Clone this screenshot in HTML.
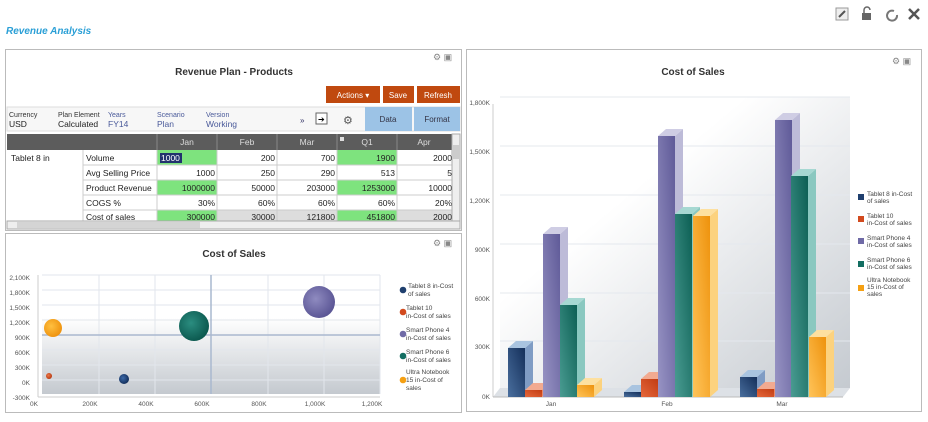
<!DOCTYPE html>
<html><head><meta charset="utf-8"><style>
body{margin:0;background:#fff;width:928px;height:417px;overflow:hidden;font-family:"Liberation Sans",sans-serif}
svg text{font-family:"Liberation Sans",sans-serif}
</style></head><body>
<svg width="928" height="417" viewBox="0 0 928 417" xmlns="http://www.w3.org/2000/svg">
<defs>
<linearGradient id="floor" x1="0" y1="0" x2="0" y2="1"><stop offset="0" stop-color="#fff"/><stop offset="1" stop-color="#c4c9cf"/></linearGradient>
<linearGradient id="wall" x1="0" y1="0" x2="1" y2="1"><stop offset="0.35" stop-color="#fff"/><stop offset="1" stop-color="#c5cad0"/></linearGradient>
<radialGradient id="gN" cx="0.4" cy="0.4" r="0.6"><stop offset="0" stop-color="#3d6aa8"/><stop offset="1" stop-color="#132f5c"/></radialGradient>
<radialGradient id="gR" cx="0.4" cy="0.4" r="0.6"><stop offset="0" stop-color="#ee7a4a"/><stop offset="1" stop-color="#b83a12"/></radialGradient>
<radialGradient id="gP" cx="0.4" cy="0.4" r="0.6"><stop offset="0" stop-color="#8f8bc0"/><stop offset="1" stop-color="#5c5796"/></radialGradient>
<radialGradient id="gT" cx="0.4" cy="0.4" r="0.6"><stop offset="0" stop-color="#2b8d80"/><stop offset="1" stop-color="#0c5a50"/></radialGradient>
<radialGradient id="gO" cx="0.4" cy="0.4" r="0.6"><stop offset="0" stop-color="#ffc040"/><stop offset="1" stop-color="#ef9410"/></radialGradient>
<linearGradient id="fN" x1="1" y1="0" x2="0" y2="1"><stop offset="0" stop-color="#142f5a"/><stop offset="1" stop-color="#4a6f9e"/></linearGradient>
<linearGradient id="fR" x1="1" y1="0" x2="0" y2="1"><stop offset="0" stop-color="#c23c12"/><stop offset="1" stop-color="#e5683c"/></linearGradient>
<linearGradient id="fP" x1="1" y1="0" x2="0" y2="1"><stop offset="0" stop-color="#5f5a98"/><stop offset="1" stop-color="#9894c4"/></linearGradient>
<linearGradient id="fT" x1="1" y1="0" x2="0" y2="1"><stop offset="0" stop-color="#0c5f54"/><stop offset="1" stop-color="#4a9c92"/></linearGradient>
<linearGradient id="fO" x1="1" y1="0" x2="0" y2="1"><stop offset="0" stop-color="#ee920c"/><stop offset="1" stop-color="#ffc45a"/></linearGradient>
</defs>

<!-- header -->
<text x="6" y="34" font-size="10" font-weight="bold" font-style="italic" fill="#2a9fd6">Revenue Analysis</text>
<rect x="836" y="8" width="12" height="12" fill="#eee" stroke="#999"/><path d="M839 17 L845 11" stroke="#555" stroke-width="2"/>
<rect x="862" y="13" width="9" height="7" fill="#666"/><path d="M864 13 v-3 a3 3 0 0 1 6 0" stroke="#666" stroke-width="1.5" fill="none"/>
<path d="M894 11 a5 5 0 1 0 3 4" stroke="#777" stroke-width="2" fill="none"/>
<path d="M909 9 l10 10 M919 9 l-10 10" stroke="#555" stroke-width="2.5"/>

<!-- top-left panel -->
<rect x="5.5" y="49.5" width="456" height="181" fill="#fff" stroke="#bbb"/>
<text x="234" y="75" font-size="10" font-weight="bold" fill="#333" text-anchor="middle">Revenue Plan - Products</text>
<text x="433" y="60" font-size="9" fill="#888">⚙ ▣</text>
<rect x="326" y="86" width="54" height="17" fill="#c0490f"/><text x="353" y="98" font-size="8" fill="#fff" text-anchor="middle">Actions ▾</text>
<rect x="383" y="86" width="31" height="17" fill="#c0490f"/><text x="398" y="98" font-size="8" fill="#fff" text-anchor="middle">Save</text>
<rect x="417" y="86" width="43" height="17" fill="#c0490f"/><text x="438" y="98" font-size="8" fill="#fff" text-anchor="middle">Refresh</text>
<rect x="7" y="107" width="453" height="24" fill="#f7f7f7" stroke="#ddd"/>
<g font-size="7" fill="#333"><text x="9" y="117">Currency</text><text x="58" y="117">Plan Element</text></g>
<g font-size="7" fill="#4a5a9a"><text x="108" y="117">Years</text><text x="157" y="117">Scenario</text><text x="206" y="117">Version</text></g>
<g font-size="8.5" fill="#222"><text x="9" y="127">USD</text><text x="58" y="127">Calculated</text></g>
<g font-size="8.5" fill="#4a5a9a"><text x="108" y="127">FY14</text><text x="157" y="127">Plan</text><text x="206" y="127">Working</text></g>
<text x="300" y="123" font-size="8" fill="#336">»</text>
<rect x="316" y="113" width="11" height="11" fill="#fff" stroke="#666"/><text x="318" y="122" font-size="8">➔</text>
<text x="343" y="124" font-size="11" fill="#555">⚙</text>
<rect x="365" y="107" width="47" height="24" fill="#9cc3e6"/><text x="388" y="122" font-size="8" fill="#334" text-anchor="middle">Data</text>
<rect x="414" y="107" width="46" height="24" fill="#9cc3e6"/><text x="437" y="122" font-size="8" fill="#334" text-anchor="middle">Format</text>
<rect x="7" y="134" width="445" height="16" fill="#5c5c5c"/>
<g font-size="8.5" fill="#ddd" text-anchor="middle"><text x="187" y="145">Jan</text><text x="247" y="145">Feb</text><text x="307" y="145">Mar</text><text x="367" y="145">Q1</text><text x="424" y="145">Apr</text></g>
<rect x="340" y="137" width="4" height="4" fill="#ddd"/>
<g stroke="#888" stroke-width="1"><line x1="157" y1="134" x2="157" y2="150"/><line x1="217" y1="134" x2="217" y2="150"/><line x1="277" y1="134" x2="277" y2="150"/><line x1="337" y1="134" x2="337" y2="150"/><line x1="397" y1="134" x2="397" y2="150"/></g>
<g fill="#7ee37e"><rect x="157" y="150" width="60" height="15"/><rect x="337" y="150" width="60" height="15"/><rect x="157" y="180" width="60" height="15"/><rect x="337" y="180" width="60" height="15"/><rect x="157" y="210" width="60" height="11"/><rect x="337" y="210" width="60" height="11"/></g>
<g fill="#ddd"><rect x="217" y="210" width="120" height="11"/><rect x="397" y="210" width="55" height="11"/></g>
<g stroke="#ccc"><line x1="83" y1="165" x2="452" y2="165"/><line x1="83" y1="180" x2="452" y2="180"/><line x1="83" y1="195" x2="452" y2="195"/><line x1="83" y1="210" x2="452" y2="210"/>
<line x1="83" y1="150" x2="83" y2="221"/><line x1="157" y1="150" x2="157" y2="221"/><line x1="217" y1="150" x2="217" y2="221"/><line x1="277" y1="150" x2="277" y2="221"/><line x1="337" y1="150" x2="337" y2="221"/><line x1="397" y1="150" x2="397" y2="221"/></g>
<text x="11" y="161" font-size="8.5" fill="#222">Tablet 8 in</text>
<g font-size="8.5" fill="#222"><text x="86" y="161">Volume</text><text x="86" y="176">Avg Selling Price</text><text x="86" y="191">Product Revenue</text><text x="86" y="206">COGS %</text><text x="86" y="220">Cost of sales</text></g>
<rect x="160" y="153" width="22" height="10" fill="#22336e"/><text x="161" y="161" font-size="8.5" fill="#fff">1000</text>
<g font-size="8.5" fill="#222" text-anchor="end">
<text x="275" y="161">200</text><text x="335" y="161">700</text><text x="395" y="161">1900</text><text x="452" y="161">2000</text>
<text x="215" y="176">1000</text><text x="275" y="176">250</text><text x="335" y="176">290</text><text x="395" y="176">513</text><text x="452" y="176">5</text>
<text x="215" y="191">1000000</text><text x="275" y="191">50000</text><text x="335" y="191">203000</text><text x="395" y="191">1253000</text><text x="452" y="191">10000</text>
<text x="215" y="206">30%</text><text x="275" y="206">60%</text><text x="335" y="206">60%</text><text x="395" y="206">60%</text><text x="452" y="206">20%</text>
<text x="215" y="220">300000</text><text x="275" y="220">30000</text><text x="335" y="220">121800</text><text x="395" y="220">451800</text><text x="452" y="220">2000</text></g>
<rect x="452" y="134" width="8" height="88" fill="#eee" stroke="#aaa"/><rect x="453" y="145" width="6" height="14" fill="#ccc"/>
<rect x="7" y="221" width="453" height="8" fill="#eee" stroke="#aaa"/><rect x="17" y="222" width="183" height="6" fill="#d4d4d4"/>

<!-- bottom-left panel -->
<rect x="5.5" y="233.5" width="456" height="179" fill="#fff" stroke="#bbb"/>
<text x="234" y="257" font-size="10" font-weight="bold" fill="#333" text-anchor="middle">Cost of Sales</text>
<text x="433" y="246" font-size="9" fill="#888">⚙ ▣</text>
<rect x="42" y="275" width="338" height="119" fill="#fff"/>
<rect x="42" y="318" width="338" height="76" fill="url(#floor)"/>
<g stroke="#e2e6ec"><line x1="99" y1="275" x2="99" y2="394"/><line x1="155" y1="275" x2="155" y2="394"/><line x1="268" y1="275" x2="268" y2="394"/><line x1="324" y1="275" x2="324" y2="394"/><line x1="380" y1="275" x2="380" y2="394"/>
<line x1="42" y1="290" x2="380" y2="290"/><line x1="42" y1="305" x2="380" y2="305"/><line x1="42" y1="320" x2="380" y2="320"/><line x1="42" y1="350" x2="380" y2="350"/><line x1="42" y1="365" x2="380" y2="365"/><line x1="42" y1="380" x2="380" y2="380"/></g>
<line x1="42" y1="275" x2="380" y2="275" stroke="#e2e6ec"/>
<line x1="211" y1="275" x2="211" y2="394" stroke="#a9b8cf" stroke-width="1.5"/>
<line x1="42" y1="335" x2="380" y2="335" stroke="#a9b8cf" stroke-width="1.5"/>
<line x1="38" y1="275" x2="38" y2="397" stroke="#ccc"/><line x1="38" y1="397" x2="380" y2="397" stroke="#ccc"/>
<g font-size="6.5" fill="#555" text-anchor="end"><text x="30" y="280">2,100K</text><text x="30" y="295">1,800K</text><text x="30" y="310">1,500K</text><text x="30" y="325">1,200K</text><text x="30" y="340">900K</text><text x="30" y="355">600K</text><text x="30" y="370">300K</text><text x="30" y="385">0K</text><text x="30" y="400">-300K</text></g>
<g font-size="6.5" fill="#555" text-anchor="middle"><text x="34" y="406">0K</text><text x="90" y="406">200K</text><text x="146" y="406">400K</text><text x="202" y="406">600K</text><text x="259" y="406">800K</text><text x="315" y="406">1,000K</text><text x="372" y="406">1,200K</text></g>
<circle cx="53" cy="328" r="9" fill="url(#gO)"/>
<circle cx="194" cy="326" r="15" fill="url(#gT)"/>
<circle cx="319" cy="302" r="16" fill="url(#gP)"/>
<circle cx="49" cy="376" r="3" fill="url(#gR)"/>
<circle cx="124" cy="379" r="5" fill="url(#gN)"/>
<g font-size="6.5" fill="#444">
<circle cx="403" cy="290" r="3.3" fill="#1f3f6e"/><text x="408" y="288">Tablet 8 in-Cost</text><text x="408" y="296">of sales</text>
<circle cx="403" cy="312" r="3.3" fill="#d24a1e"/><text x="406" y="310">Tablet 10</text><text x="406" y="318">in-Cost of sales</text>
<circle cx="403" cy="334" r="3.3" fill="#6f6aa6"/><text x="406" y="332">Smart Phone 4</text><text x="406" y="340">in-Cost of sales</text>
<circle cx="403" cy="356" r="3.3" fill="#136e62"/><text x="406" y="354">Smart Phone 6</text><text x="406" y="362">in-Cost of sales</text>
<circle cx="403" cy="380" r="3.3" fill="#f5a013"/><text x="406" y="374">Ultra Notebook</text><text x="406" y="382">15 in-Cost of</text><text x="406" y="390">sales</text></g>

<!-- right panel -->
<rect x="466.5" y="49.5" width="455" height="362" fill="#fff" stroke="#bbb"/>
<text x="693" y="75" font-size="10" font-weight="bold" fill="#333" text-anchor="middle">Cost of Sales</text>
<text x="892" y="64" font-size="9" fill="#888">⚙ ▣</text>
<polygon points="500,97 850,97 850,388 500,388" fill="url(#wall)"/>
<polygon points="493,397 843,397 850,388 500,388" fill="#dde1e6"/>
<g stroke="#e4e8ee"><line x1="500" y1="97" x2="850" y2="97"/><line x1="500" y1="146" x2="850" y2="146"/><line x1="500" y1="195" x2="850" y2="195"/><line x1="500" y1="244" x2="850" y2="244"/><line x1="500" y1="293" x2="850" y2="293"/><line x1="500" y1="341" x2="850" y2="341"/></g>
<line x1="493" y1="104" x2="493" y2="397" stroke="#ccc"/><line x1="493" y1="397" x2="843" y2="397" stroke="#bbb"/>
<g font-size="6.5" fill="#555" text-anchor="end"><text x="490" y="105">1,800K</text><text x="490" y="154">1,500K</text><text x="490" y="203">1,200K</text><text x="490" y="252">900K</text><text x="490" y="301">600K</text><text x="490" y="349">300K</text><text x="490" y="399">0K</text></g>
<g font-size="6.5" fill="#555" text-anchor="middle"><text x="551" y="406">Jan</text><text x="667" y="406">Feb</text><text x="782" y="406">Mar</text></g>
<g id="bars"></g>
<g font-size="6.5" fill="#444">
<rect x="858" y="194" width="6" height="6" fill="#1f3f6e"/><text x="867" y="196">Tablet 8 in-Cost</text><text x="867" y="203">of sales</text>
<rect x="858" y="216" width="6" height="6" fill="#d24a1e"/><text x="867" y="218">Tablet 10</text><text x="867" y="225">in-Cost of sales</text>
<rect x="858" y="238" width="6" height="6" fill="#6f6aa6"/><text x="867" y="240">Smart Phone 4</text><text x="867" y="247">in-Cost of sales</text>
<rect x="858" y="261" width="6" height="6" fill="#136e62"/><text x="867" y="262">Smart Phone 6</text><text x="867" y="269">in-Cost of sales</text>
<rect x="858" y="285" width="6" height="6" fill="#f5a013"/><text x="867" y="282">Ultra Notebook</text><text x="867" y="289">15 in-Cost of</text><text x="867" y="296">sales</text></g>
</svg>
<script>
var cols={N:['url(#fN)','#7f9cc4','#a9c4e0'],R:['url(#fR)','#e88a6a','#f2aa90'],P:['url(#fP)','#bdbbd8','#cfcde4'],T:['url(#fT)','#8ac8c0','#a6d8d2'],O:['url(#fO)','#fcd27e','#fde0a0']};
var d=[[508,348,'N'],[525,390,'R'],[543,234,'P'],[560,305,'T'],[577,385,'O'],[624,392,'N'],[641,379,'R'],[658,136,'P'],[675,214,'T'],[693,216,'O'],[740,377,'N'],[757,389,'R'],[775,120,'P'],[791,176,'T'],[809,337,'O']];
var s='',w=17,b=397,dx=8,dy=7;
d.forEach(function(a){var x=a[0],t=a[1],c=cols[a[2]];
s+='<polygon points="'+(x+w)+','+t+' '+(x+w+dx)+','+(t-dy)+' '+(x+w+dx)+','+(b-dy)+' '+(x+w)+','+b+'" fill="'+c[1]+'"/>';
s+='<polygon points="'+x+','+t+' '+(x+dx)+','+(t-dy)+' '+(x+w+dx)+','+(t-dy)+' '+(x+w)+','+t+'" fill="'+c[2]+'"/>';
s+='<rect x="'+x+'" y="'+t+'" width="'+w+'" height="'+(b-t)+'" fill="'+c[0]+'"/>';});
document.getElementById('bars').innerHTML=s;
</script>
</body></html>
